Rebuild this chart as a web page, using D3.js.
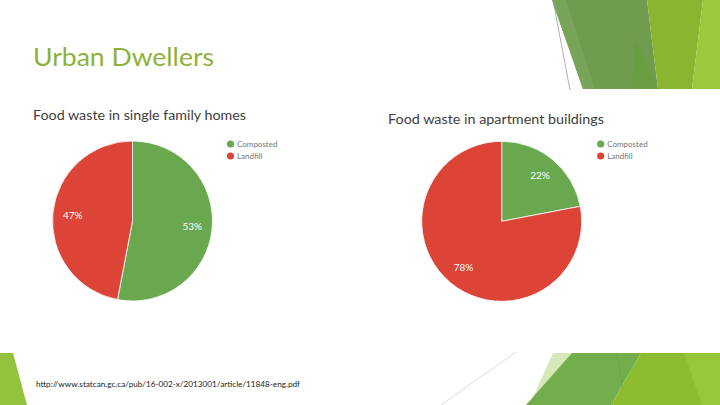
<!DOCTYPE html>
<html>
<head>
<meta charset="utf-8">
<script src="https://cdn.jsdelivr.net/npm/d3@7"></script>
<style>
  html, body { margin: 0; padding: 0; background: #fff; }
  svg { display: block; }
  text { font-family: Lato, "Open Sans", sans-serif; }
</style>
</head>
<body>
<svg id="slide" width="720" height="405"></svg>
<script>
// chart data
const categories = ["Composted", "Landfill"];
const singleFamily = [53, 47];
const apartments = [22, 78];
const sliceColors = ["#6aa84f", "#db4437"];
const chartTitles = ["Food waste in single family homes", "Food waste in apartment buildings"];
const sourceUrl = "http://www.statcan.gc.ca/pub/16-002-x/2013001/article/11848-eng.pdf";

const svg = d3.select("#slide");

// --- decorative slide shapes ---
const deco = svg.append("g");
const shapes = [
    // top right
    { pts: [[552, 0], [647, 0], [658, 89], [583, 89]], fill: "#6f9c4e" },
    { pts: [[552, 0], [566, 0], [595, 89], [583, 89]], fill: "#78a45a" },
    { pts: [[635, 40], [658, 89], [632, 89]], fill: "#6a9d3f" },
    { pts: [[647, 0], [703, 0], [692, 89], [658, 89]], fill: "#8ab530" },
    { pts: [[703, 0], [720, 0], [720, 89], [692, 89]], fill: "#9cc83f" },
    // bottom left
    { pts: [[0, 353], [13, 353], [27, 405], [0, 405]], fill: "#93c23d" },
    // bottom right
    { pts: [[553, 353], [573, 353], [531, 402]], fill: "#d6e8b7" },
    { pts: [[572, 353], [641, 353], [611, 405], [526, 405]], fill: "#73ad4c" },
    { pts: [[641, 353], [720, 353], [720, 405], [611, 405]], fill: "#8cbd30" },
    { pts: [[684, 353], [720, 353], [720, 405], [702, 405]], fill: "#97c63a" }
];
deco.selectAll("polygon")
    .data(shapes)
    .join("polygon")
    .attr("points", d => d.pts.map(p => p.join(",")).join(" "))
    .attr("fill", d => d.fill);

deco.append("line")
    .attr("x1", 553).attr("y1", 0).attr("x2", 570).attr("y2", 90)
    .attr("stroke", "#9a9a9a").attr("stroke-width", 0.8);
deco.append("line")
    .attr("x1", 441).attr("y1", 405).attr("x2", 516).attr("y2", 352)
    .attr("stroke", "#d0d0d0").attr("stroke-width", 0.8);
deco.append("line")
    .attr("x1", 617).attr("y1", 353).attr("x2", 623).attr("y2", 390)
    .attr("stroke", "#5f9440").attr("stroke-width", 0.6).attr("opacity", 0.6);

// --- title ---
svg.append("text")
    .attr("x", 33).attr("y", 66)
    .attr("font-size", 25)
    .attr("fill", "#8db23b")
    .attr("textLength", 181)
    .attr("lengthAdjust", "spacingAndGlyphs")
    .text("Urban Dwellers");

// chart headings
svg.append("text")
    .attr("x", 33).attr("y", 120)
    .attr("font-size", 14)
    .attr("fill", "#404040")
    .attr("textLength", 213)
    .attr("lengthAdjust", "spacingAndGlyphs")
    .text(chartTitles[0]);

svg.append("text")
    .attr("x", 388).attr("y", 124)
    .attr("font-size", 14)
    .attr("fill", "#404040")
    .attr("textLength", 216)
    .attr("lengthAdjust", "spacingAndGlyphs")
    .text(chartTitles[1]);

// --- pies ---
const radius = 80;
const pie = d3.pie().sort(null).startAngle(0).endAngle(2 * Math.PI);
const arc = d3.arc().innerRadius(0).outerRadius(radius);
const labelArc = d3.arc().innerRadius(radius * 0.75).outerRadius(radius * 0.75);
const color = d3.scaleOrdinal().domain(categories).range(sliceColors);

function drawPie(values, cx, cy, legendX) {
    const g = svg.append("g").attr("transform", `translate(${cx}, ${cy})`);
    const arcs = pie(values);

    g.selectAll("path")
        .data(arcs)
        .join("path")
        .attr("d", arc)
        .attr("fill", (d, i) => color(categories[i]))
        .attr("stroke", "#fff")
        .attr("stroke-width", 0.8);

    g.selectAll("text")
        .data(arcs)
        .join("text")
        .attr("transform", d => `translate(${labelArc.centroid(d)})`)
        .attr("text-anchor", "middle")
        .attr("dy", "0.35em")
        .attr("font-family", "'Liberation Sans', Arial, sans-serif")
        .attr("font-size", 10)
        .attr("fill", "#fff")
        .text(d => d.data + "%");

    // legend
    const legend = svg.append("g")
        .selectAll("g")
        .data(categories)
        .join("g")
        .attr("transform", (d, i) => `translate(${legendX}, ${144 + i * 12})`);
    legend.append("circle")
        .attr("r", 3.6)
        .attr("fill", d => color(d));
    legend.append("text")
        .attr("x", 6.5)
        .attr("dy", "0.35em")
        .attr("font-family", "'Liberation Sans', Arial, sans-serif")
        .attr("font-size", 8)
        .attr("fill", "#757575")
        .text(d => d);
}

drawPie(singleFamily, 132.5, 221, 230.5);
drawPie(apartments, 501.7, 221.3, 600.7);

// --- source ---
svg.append("text")
    .attr("x", 36).attr("y", 387)
    .attr("font-family", "'Liberation Sans Narrow', 'DejaVu Sans Condensed', sans-serif")
    .attr("font-size", 8)
    .attr("fill", "#222")
    .attr("textLength", 264)
    .attr("lengthAdjust", "spacingAndGlyphs")
    .text(sourceUrl);
</script>
</body>
</html>
